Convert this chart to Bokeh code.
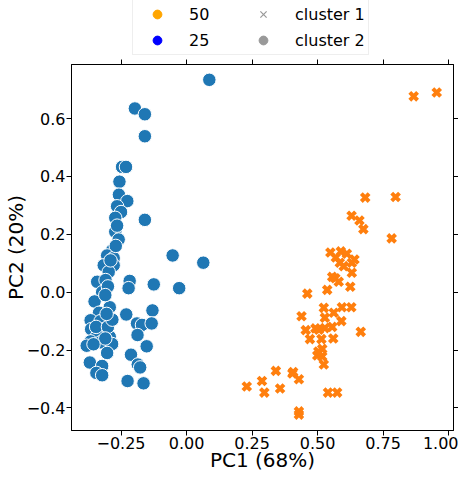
from bokeh.plotting import figure
from bokeh.layouts import column
from bokeh.models import Range1d, LinearAxis, FixedTicker, Legend, LegendItem
from bokeh.embed import file_html
from bokeh.resources import INLINE

# cluster 2 (blue circles)
c2_pc1 = [0.087, -0.197, -0.159, -0.159, -0.246, -0.231, -0.256, -0.258, -0.226, -0.265,
          -0.250, -0.272, -0.159, -0.272, -0.259, -0.284, -0.303, -0.278, -0.053, 0.064,
          -0.278, -0.316, -0.297, -0.341, -0.309, -0.217, -0.221, -0.125, -0.028, -0.322,
          -0.351, -0.293, -0.334, -0.230, -0.130, -0.366, -0.328, -0.189, -0.170, -0.133,
          -0.364, -0.316, -0.187, -0.341, -0.293, -0.366, -0.328, -0.284, -0.381, -0.152,
          -0.303, -0.212, -0.369, -0.322, -0.186, -0.177, -0.344, -0.322, -0.225, -0.164,
          -0.300, -0.310, -0.345, -0.300, -0.310, -0.355, -0.290, -0.270, -0.265, -0.283,
          -0.305]
c2_pc2 = [0.734, 0.635, 0.615, 0.539, 0.433, 0.433, 0.382, 0.337, 0.315, 0.297,
          0.277, 0.257, 0.250, 0.209, 0.182, 0.144, 0.127, 0.118, 0.127, 0.102,
          0.093, 0.093, 0.070, 0.036, 0.042, 0.039, 0.014, 0.027, 0.014, 0.000,
          -0.032, -0.052, -0.071, -0.077, -0.063, -0.097, -0.100, -0.108, -0.113, -0.108,
          -0.128, -0.128, -0.148, -0.151, -0.154, -0.170, -0.173, -0.179, -0.185, -0.187,
          -0.210, -0.216, -0.243, -0.255, -0.250, -0.260, -0.279, -0.287, -0.307, -0.315,
          0.020, -0.010, -0.120, -0.120, -0.160, -0.180, 0.110, 0.160, 0.230, -0.095,
          -0.075]

# cluster 1 (orange crosses)
c1_pc1 = [0.867, 0.955, 0.682, 0.798, 0.630, 0.660, 0.675, 0.783, 0.549, 0.589,
          0.612, 0.585, 0.631, 0.641, 0.631, 0.568, 0.581, 0.625, 0.537, 0.556,
          0.461, 0.593, 0.629, 0.524, 0.562, 0.439, 0.528, 0.591, 0.556, 0.455,
          0.492, 0.528, 0.665, 0.471, 0.515, 0.518, 0.499, 0.524, 0.404, 0.341,
          0.407, 0.429, 0.288, 0.230, 0.297, 0.357, 0.540, 0.575, 0.429, 0.429,
          0.518, 0.503, 0.570, 0.600, 0.560, 0.505]
c1_pc2 = [0.677, 0.690, 0.327, 0.329, 0.264, 0.248, 0.218, 0.186, 0.137, 0.141,
          0.133, 0.102, 0.102, 0.113, 0.067, 0.048, 0.036, 0.019, 0.008, 0.053,
          -0.005, -0.052, -0.052, -0.054, -0.071, -0.083, -0.088, -0.100, -0.120, -0.131,
          -0.125, -0.124, -0.137, -0.162, -0.162, -0.196, -0.219, -0.250, -0.281, -0.272,
          -0.276, -0.301, -0.307, -0.326, -0.347, -0.333, -0.347, -0.347, -0.412, -0.423,
          -0.222, -0.205, 0.120, 0.090, -0.160, -0.130]

x_ticks = [-0.25, 0.0, 0.25, 0.5, 0.75, 1.0]
x_tick_labels = ["\u22120.25", "0.00", "0.25", "0.50", "0.75", "1.00"]
y_ticks = [-0.4, -0.2, 0.0, 0.2, 0.4, 0.6]
y_tick_labels = ["\u22120.4", "\u22120.2", "0.0", "0.2", "0.4", "0.6"]
legend_labels = ["50", "25", "cluster 1", "cluster 2"]

FONT = "DejaVu Sans"
W = 458
LEG_H = 56

# ---- legend strip ----
pl = figure(width=W, height=LEG_H, output_backend="svg", toolbar_location=None,
            x_range=Range1d(0, 1), y_range=Range1d(0, 1), min_border=0)
pl.axis.visible = False
pl.grid.visible = False
pl.outline_line_color = None
pl.border_fill_color = "white"

nan = float("nan")
r50 = pl.scatter([nan], [nan], marker="circle", fill_color="#ffa500", line_color="#ffa500")
r25 = pl.scatter([nan], [nan], marker="circle", fill_color="#0000ff", line_color="#0000ff")
rc1 = pl.scatter([nan], [nan], marker="x", line_color="#999999", line_width=1.2)
rc2 = pl.scatter([nan], [nan], marker="circle", fill_color="#999999", line_color="#999999")

legend = Legend(items=[LegendItem(label=legend_labels[0], renderers=[r50]),
                       LegendItem(label=legend_labels[1], renderers=[r25]),
                       LegendItem(label=legend_labels[2], renderers=[rc1]),
                       LegendItem(label=legend_labels[3], renderers=[rc2])],
                ncols=2, orientation="vertical", location=(61, 1), margin=0,
                label_text_font=FONT, label_text_font_size="16px",
                label_text_color="black", glyph_width=42, glyph_height=22,
                label_height=22, label_width=49, label_standoff=11, spacing=4, padding=3,
                border_line_color="#dddddd", border_line_width=1,
                background_fill_color="white", background_fill_alpha=1)
pl.add_layout(legend, "center")

# ---- main scatter ----
p = figure(width=W, height=474 - LEG_H, output_backend="svg", toolbar_location=None,
           x_range=Range1d(-0.439, 1.019), y_range=Range1d(-0.478, 0.787),
           min_border_left=40, min_border_right=0, min_border_top=8, min_border_bottom=30,
           x_axis_label="PC1 (68%)", y_axis_label="PC2 (20%)")
p.grid.visible = False
p.outline_line_color = "black"
p.outline_line_width = 1
p.background_fill_color = "white"
p.border_fill_color = "white"

for ax, ticks, labels in ((p.xaxis[0], x_ticks, x_tick_labels), (p.yaxis[0], y_ticks, y_tick_labels)):
    ax.ticker = FixedTicker(ticks=ticks)
    ax.major_label_overrides = {t: l for t, l in zip(ticks, labels)}
    ax.minor_tick_line_color = None
    ax.major_tick_out = 5
    ax.major_tick_in = 0
    ax.major_label_standoff = 1
    ax.major_label_text_font = FONT
    ax.major_label_text_font_size = "16px"
    ax.major_label_text_color = "black"
    ax.axis_label_text_font = FONT
    ax.axis_label_text_font_size = "20px"
    ax.axis_label_text_font_style = "normal"
    ax.axis_label_text_color = "black"
    ax.axis_label_standoff = -4
    ax.axis_line_color = "black"

# mirror ticks on top and right
top = LinearAxis(ticker=FixedTicker(ticks=x_ticks), major_label_overrides={t: "" for t in x_ticks},
                 major_tick_out=5, major_tick_in=0, minor_tick_line_color=None,
                 major_label_text_font_size="0px", major_label_standoff=0, axis_label_standoff=0)
right = LinearAxis(ticker=FixedTicker(ticks=y_ticks), major_label_overrides={t: "" for t in y_ticks},
                   major_tick_out=5, major_tick_in=0, minor_tick_line_color=None,
                   major_label_text_font_size="0px", major_label_standoff=0, axis_label_standoff=0)
p.add_layout(top, "above")
p.add_layout(right, "right")

p.scatter(c2_pc1, c2_pc2, marker="circle", size=13.5, fill_color="#1f77b4",
          line_color="white", line_width=1)
p.scatter(c1_pc1, c1_pc2, marker="x", size=11, line_color="#ff7f0e", line_width=4)

layout = column(pl, p, spacing=0)
open("out.html", "w").write(file_html(layout, INLINE))
